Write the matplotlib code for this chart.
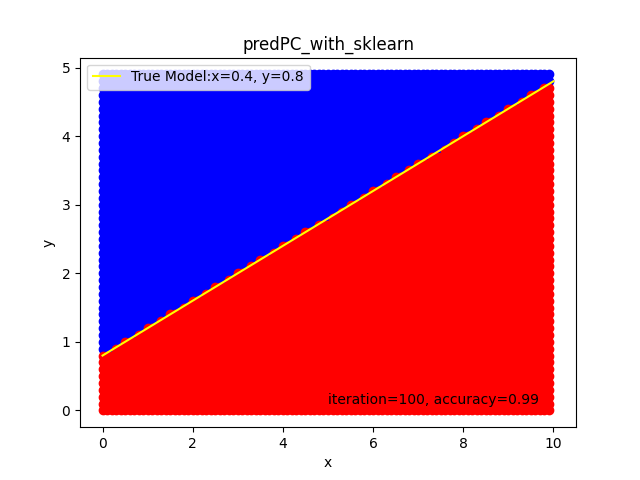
import numpy as np
import matplotlib.pyplot as plt

# grid of sample points
x_vals = np.arange(0, 10.0, 0.1)
y_vals = np.arange(0, 4.95, 0.1)
slope = 0.4
intercept = 0.8
line_x = [0, 10]
title = "predPC_with_sklearn"
note = "iteration=100, accuracy=0.99"

gx, gy = np.meshgrid(x_vals, y_vals)
gx = gx.ravel()
gy = gy.ravel()
above = gy > slope * gx + intercept

fig, ax = plt.subplots(figsize=(6.4, 4.8), dpi=100)
ax.scatter(gx[above], gy[above], c='blue')
ax.scatter(gx[~above], gy[~above], c='red')
lx = np.array(line_x)
ax.plot(lx, slope * lx + intercept, color='yellow',
        label='True Model:x=%s, y=%s' % (slope, intercept))
ax.text(5, 0.1, note)
ax.set_xlabel('x')
ax.set_ylabel('y')
ax.set_title(title)
ax.legend(loc='upper left')
fig.savefig('out.png')
